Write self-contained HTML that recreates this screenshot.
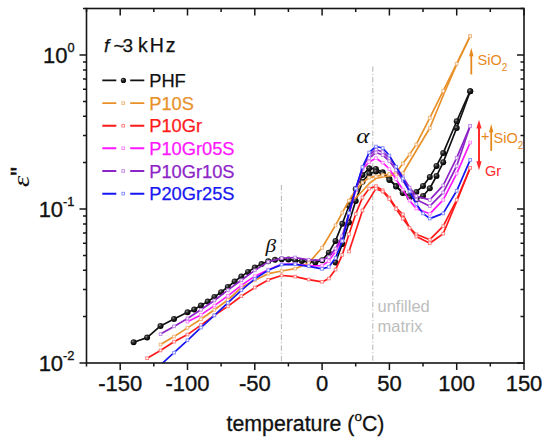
<!DOCTYPE html>
<html><head><meta charset="utf-8"><style>
html,body{margin:0;padding:0;background:#fff;}
body{width:550px;height:442px;overflow:hidden;font-family:"Liberation Sans",sans-serif;}
svg{display:block;}
</style></head><body>
<svg width="550" height="442" viewBox="0 0 550 442">
<defs><radialGradient id="ball" cx="0.38" cy="0.35" r="0.65"><stop offset="0" stop-color="#9a9a9a"/><stop offset="0.35" stop-color="#2a2a2a"/><stop offset="1" stop-color="#000"/></radialGradient>
<clipPath id="clip"><rect x="86.5" y="8.5" width="437.5" height="354.5"/></clipPath></defs>
<rect width="550" height="442" fill="#fff"/>
<line x1="281.4" y1="185" x2="281.4" y2="363.0" stroke="#b4b4b4" stroke-width="1" stroke-dasharray="5.3 2.1 1.1 2.2"/>
<line x1="372.8" y1="66.5" x2="372.8" y2="363.0" stroke="#b4b4b4" stroke-width="1" stroke-dasharray="5.3 2.1 1.1 2.2"/>
<g clip-path="url(#clip)">
<polyline points="133.6,342.3 147.1,337.6 160.5,325.9 174.0,319.0 187.5,312.3 194.2,309.6 200.9,305.5 207.7,301.6 214.4,296.9 221.1,292.2 227.8,287.0 234.6,281.5 241.3,276.4 248.0,271.9 254.8,267.5 261.5,264.1 268.2,261.2 275.0,259.8 281.7,259.2 288.4,259.6 295.2,260.5 301.9,261.1 308.6,261.7 315.3,262.4 322.1,260.2 328.8,252.7 335.5,240.9 342.3,223.8 349.0,205.8 355.7,189.0 362.5,175.0 369.2,168.3 375.9,168.9 382.7,172.3 389.4,179.1 396.1,185.9 402.8,192.5 409.6,196.0 416.3,191.9 423.0,185.9 429.8,176.9 436.5,165.9 443.2,153.1 450.0,137.0 456.7,121.3 463.4,106.0 470.2,91.2" fill="none" stroke="#111111" stroke-width="1.7" stroke-linejoin="round"/>
<polyline points="335.5,262.4 342.3,244.0 349.0,222.6 355.7,200.9 362.5,181.8 369.2,173.7 375.9,171.6 382.7,173.5 389.4,180.0 396.1,186.5 402.8,193.0 409.6,197.5 416.3,199.3 423.0,196.0 429.8,188.3 436.5,176.0 443.2,162.3 450.0,145.0 456.7,128.0 463.4,110.0 470.2,91.2" fill="none" stroke="#111111" stroke-width="1.7" stroke-linejoin="round"/>
<circle cx="133.6" cy="342.3" r="3.0" fill="url(#ball)"/>
<circle cx="147.1" cy="337.6" r="3.0" fill="url(#ball)"/>
<circle cx="160.5" cy="325.9" r="3.0" fill="url(#ball)"/>
<circle cx="174.0" cy="319.0" r="3.0" fill="url(#ball)"/>
<circle cx="187.5" cy="312.3" r="3.0" fill="url(#ball)"/>
<circle cx="194.2" cy="309.6" r="3.0" fill="url(#ball)"/>
<circle cx="200.9" cy="305.5" r="3.0" fill="url(#ball)"/>
<circle cx="207.7" cy="301.6" r="3.0" fill="url(#ball)"/>
<circle cx="214.4" cy="296.9" r="3.0" fill="url(#ball)"/>
<circle cx="221.1" cy="292.2" r="3.0" fill="url(#ball)"/>
<circle cx="227.8" cy="287.0" r="3.0" fill="url(#ball)"/>
<circle cx="234.6" cy="281.5" r="3.0" fill="url(#ball)"/>
<circle cx="241.3" cy="276.4" r="3.0" fill="url(#ball)"/>
<circle cx="248.0" cy="271.9" r="3.0" fill="url(#ball)"/>
<circle cx="254.8" cy="267.5" r="3.0" fill="url(#ball)"/>
<circle cx="261.5" cy="264.1" r="3.0" fill="url(#ball)"/>
<circle cx="268.2" cy="261.2" r="3.0" fill="url(#ball)"/>
<circle cx="275.0" cy="259.8" r="3.0" fill="url(#ball)"/>
<circle cx="281.7" cy="259.2" r="3.0" fill="url(#ball)"/>
<circle cx="288.4" cy="259.6" r="3.0" fill="url(#ball)"/>
<circle cx="295.2" cy="260.5" r="3.0" fill="url(#ball)"/>
<circle cx="301.9" cy="261.1" r="3.0" fill="url(#ball)"/>
<circle cx="308.6" cy="261.7" r="3.0" fill="url(#ball)"/>
<circle cx="315.3" cy="262.4" r="3.0" fill="url(#ball)"/>
<circle cx="322.1" cy="260.2" r="3.0" fill="url(#ball)"/>
<circle cx="328.8" cy="252.7" r="3.0" fill="url(#ball)"/>
<circle cx="335.5" cy="240.9" r="3.0" fill="url(#ball)"/>
<circle cx="342.3" cy="223.8" r="3.0" fill="url(#ball)"/>
<circle cx="349.0" cy="205.8" r="3.0" fill="url(#ball)"/>
<circle cx="355.7" cy="189.0" r="3.0" fill="url(#ball)"/>
<circle cx="362.5" cy="175.0" r="3.0" fill="url(#ball)"/>
<circle cx="369.2" cy="168.3" r="3.0" fill="url(#ball)"/>
<circle cx="375.9" cy="168.9" r="3.0" fill="url(#ball)"/>
<circle cx="382.7" cy="172.3" r="3.0" fill="url(#ball)"/>
<circle cx="389.4" cy="179.1" r="3.0" fill="url(#ball)"/>
<circle cx="396.1" cy="185.9" r="3.0" fill="url(#ball)"/>
<circle cx="402.8" cy="192.5" r="3.0" fill="url(#ball)"/>
<circle cx="409.6" cy="196.0" r="3.0" fill="url(#ball)"/>
<circle cx="416.3" cy="191.9" r="3.0" fill="url(#ball)"/>
<circle cx="423.0" cy="185.9" r="3.0" fill="url(#ball)"/>
<circle cx="429.8" cy="176.9" r="3.0" fill="url(#ball)"/>
<circle cx="436.5" cy="165.9" r="3.0" fill="url(#ball)"/>
<circle cx="443.2" cy="153.1" r="3.0" fill="url(#ball)"/>
<circle cx="456.7" cy="121.3" r="3.0" fill="url(#ball)"/>
<circle cx="470.2" cy="91.2" r="3.0" fill="url(#ball)"/>
<circle cx="335.5" cy="262.4" r="3.0" fill="url(#ball)"/>
<circle cx="342.3" cy="244.0" r="3.0" fill="url(#ball)"/>
<circle cx="349.0" cy="222.6" r="3.0" fill="url(#ball)"/>
<circle cx="355.7" cy="200.9" r="3.0" fill="url(#ball)"/>
<circle cx="362.5" cy="181.8" r="3.0" fill="url(#ball)"/>
<circle cx="369.2" cy="173.7" r="3.0" fill="url(#ball)"/>
<circle cx="375.9" cy="171.6" r="3.0" fill="url(#ball)"/>
<circle cx="382.7" cy="173.5" r="3.0" fill="url(#ball)"/>
<circle cx="389.4" cy="180.0" r="3.0" fill="url(#ball)"/>
<circle cx="396.1" cy="186.5" r="3.0" fill="url(#ball)"/>
<circle cx="402.8" cy="193.0" r="3.0" fill="url(#ball)"/>
<circle cx="409.6" cy="197.5" r="3.0" fill="url(#ball)"/>
<circle cx="416.3" cy="199.3" r="3.0" fill="url(#ball)"/>
<circle cx="423.0" cy="196.0" r="3.0" fill="url(#ball)"/>
<circle cx="429.8" cy="188.3" r="3.0" fill="url(#ball)"/>
<circle cx="436.5" cy="176.0" r="3.0" fill="url(#ball)"/>
<circle cx="443.2" cy="162.3" r="3.0" fill="url(#ball)"/>
<circle cx="456.7" cy="128.0" r="3.0" fill="url(#ball)"/>
<circle cx="470.2" cy="91.2" r="3.0" fill="url(#ball)"/>
<polyline points="160.5,344.6 174.0,336.6 187.5,327.9 200.9,319.2 214.4,309.8 227.8,300.0 241.3,287.6 254.8,280.3 268.2,273.7 281.7,271.0 295.2,268.7 308.6,263.0 322.1,247.8 335.5,225.3 342.3,212.6 349.0,200.5 355.7,190.2 362.5,182.6 369.2,177.5 375.9,176.4 382.7,175.0 389.4,174.0 396.1,173.0 402.8,163.6 409.6,154.4 416.3,144.4 429.8,117.8 443.2,90.8 456.7,63.7 470.2,36.2" fill="none" stroke="#E8912A" stroke-width="1.7" stroke-linejoin="round"/>
<polyline points="349.0,201.0 355.7,198.0 362.5,191.0 369.2,183.5 375.9,178.5 382.7,177.0 389.4,176.0 396.1,174.5 402.8,173.3 429.8,128.0 443.2,95.5 456.7,64.3 470.2,36.2" fill="none" stroke="#E8912A" stroke-width="1.7" stroke-linejoin="round"/>
<rect x="159.2" y="343.2" width="2.7" height="2.7" fill="#fff" stroke="#F0B274" stroke-width="0.9"/>
<rect x="172.7" y="335.2" width="2.7" height="2.7" fill="#fff" stroke="#F0B274" stroke-width="0.9"/>
<rect x="186.1" y="326.5" width="2.7" height="2.7" fill="#fff" stroke="#F0B274" stroke-width="0.9"/>
<rect x="199.6" y="317.8" width="2.7" height="2.7" fill="#fff" stroke="#F0B274" stroke-width="0.9"/>
<rect x="213.0" y="308.4" width="2.7" height="2.7" fill="#fff" stroke="#F0B274" stroke-width="0.9"/>
<rect x="226.5" y="298.6" width="2.7" height="2.7" fill="#fff" stroke="#F0B274" stroke-width="0.9"/>
<rect x="240.0" y="286.2" width="2.7" height="2.7" fill="#fff" stroke="#F0B274" stroke-width="0.9"/>
<rect x="253.4" y="278.9" width="2.7" height="2.7" fill="#fff" stroke="#F0B274" stroke-width="0.9"/>
<rect x="266.9" y="272.3" width="2.7" height="2.7" fill="#fff" stroke="#F0B274" stroke-width="0.9"/>
<rect x="280.3" y="269.6" width="2.7" height="2.7" fill="#fff" stroke="#F0B274" stroke-width="0.9"/>
<rect x="293.8" y="267.3" width="2.7" height="2.7" fill="#fff" stroke="#F0B274" stroke-width="0.9"/>
<rect x="307.3" y="261.6" width="2.7" height="2.7" fill="#fff" stroke="#F0B274" stroke-width="0.9"/>
<rect x="320.7" y="246.5" width="2.7" height="2.7" fill="#fff" stroke="#F0B274" stroke-width="0.9"/>
<rect x="334.2" y="224.0" width="2.7" height="2.7" fill="#fff" stroke="#F0B274" stroke-width="0.9"/>
<rect x="340.9" y="211.2" width="2.7" height="2.7" fill="#fff" stroke="#F0B274" stroke-width="0.9"/>
<rect x="347.6" y="199.2" width="2.7" height="2.7" fill="#fff" stroke="#F0B274" stroke-width="0.9"/>
<rect x="354.4" y="188.8" width="2.7" height="2.7" fill="#fff" stroke="#F0B274" stroke-width="0.9"/>
<rect x="361.1" y="181.2" width="2.7" height="2.7" fill="#fff" stroke="#F0B274" stroke-width="0.9"/>
<rect x="367.8" y="176.2" width="2.7" height="2.7" fill="#fff" stroke="#F0B274" stroke-width="0.9"/>
<rect x="374.6" y="175.1" width="2.7" height="2.7" fill="#fff" stroke="#F0B274" stroke-width="0.9"/>
<rect x="381.3" y="173.7" width="2.7" height="2.7" fill="#fff" stroke="#F0B274" stroke-width="0.9"/>
<rect x="388.0" y="172.7" width="2.7" height="2.7" fill="#fff" stroke="#F0B274" stroke-width="0.9"/>
<rect x="394.8" y="171.7" width="2.7" height="2.7" fill="#fff" stroke="#F0B274" stroke-width="0.9"/>
<rect x="401.5" y="162.2" width="2.7" height="2.7" fill="#fff" stroke="#F0B274" stroke-width="0.9"/>
<rect x="408.2" y="153.1" width="2.7" height="2.7" fill="#fff" stroke="#F0B274" stroke-width="0.9"/>
<rect x="415.0" y="143.1" width="2.7" height="2.7" fill="#fff" stroke="#F0B274" stroke-width="0.9"/>
<rect x="428.4" y="116.5" width="2.7" height="2.7" fill="#fff" stroke="#F0B274" stroke-width="0.9"/>
<rect x="441.9" y="89.5" width="2.7" height="2.7" fill="#fff" stroke="#F0B274" stroke-width="0.9"/>
<rect x="455.3" y="62.4" width="2.7" height="2.7" fill="#fff" stroke="#F0B274" stroke-width="0.9"/>
<rect x="468.8" y="34.9" width="2.7" height="2.7" fill="#fff" stroke="#F0B274" stroke-width="0.9"/>
<rect x="394.8" y="173.2" width="2.7" height="2.7" fill="#fff" stroke="#F0B274" stroke-width="0.9"/>
<rect x="401.5" y="172.0" width="2.7" height="2.7" fill="#fff" stroke="#F0B274" stroke-width="0.9"/>
<rect x="428.4" y="126.7" width="2.7" height="2.7" fill="#fff" stroke="#F0B274" stroke-width="0.9"/>
<rect x="468.8" y="34.9" width="2.7" height="2.7" fill="#fff" stroke="#F0B274" stroke-width="0.9"/>
<polyline points="147.1,358.3 160.5,350.5 174.0,341.7 187.5,334.6 200.9,325.1 214.4,315.4 227.8,306.4 241.3,296.2 254.8,287.6 268.2,279.9 281.7,275.5 295.2,276.7 308.6,279.6 322.1,281.9 328.8,278.6 335.5,269.6 342.3,254.8 349.0,234.2 355.7,214.0 362.5,197.6 369.2,188.5 375.9,186.2 382.7,190.2 389.4,197.7 396.1,207.9 402.8,214.3 409.6,227.9 416.3,234.3 429.8,239.7 443.2,226.1 456.7,199.9 470.2,167.8" fill="none" stroke="#FF1A1A" stroke-width="1.7" stroke-linejoin="round"/>
<polyline points="349.0,251.4 362.5,210.4 375.9,188.6 382.7,191.5 389.4,199.0 396.1,209.0 402.8,218.5 416.3,236.5 429.8,243.3 443.2,233.7 456.7,201.5 470.2,167.8" fill="none" stroke="#FF1A1A" stroke-width="1.7" stroke-linejoin="round"/>
<rect x="145.7" y="356.9" width="2.7" height="2.7" fill="#fff" stroke="#FF7A7A" stroke-width="0.9"/>
<rect x="159.2" y="349.1" width="2.7" height="2.7" fill="#fff" stroke="#FF7A7A" stroke-width="0.9"/>
<rect x="172.7" y="340.3" width="2.7" height="2.7" fill="#fff" stroke="#FF7A7A" stroke-width="0.9"/>
<rect x="186.1" y="333.2" width="2.7" height="2.7" fill="#fff" stroke="#FF7A7A" stroke-width="0.9"/>
<rect x="199.6" y="323.8" width="2.7" height="2.7" fill="#fff" stroke="#FF7A7A" stroke-width="0.9"/>
<rect x="213.0" y="314.0" width="2.7" height="2.7" fill="#fff" stroke="#FF7A7A" stroke-width="0.9"/>
<rect x="226.5" y="305.0" width="2.7" height="2.7" fill="#fff" stroke="#FF7A7A" stroke-width="0.9"/>
<rect x="240.0" y="294.8" width="2.7" height="2.7" fill="#fff" stroke="#FF7A7A" stroke-width="0.9"/>
<rect x="253.4" y="286.2" width="2.7" height="2.7" fill="#fff" stroke="#FF7A7A" stroke-width="0.9"/>
<rect x="266.9" y="278.5" width="2.7" height="2.7" fill="#fff" stroke="#FF7A7A" stroke-width="0.9"/>
<rect x="280.3" y="274.1" width="2.7" height="2.7" fill="#fff" stroke="#FF7A7A" stroke-width="0.9"/>
<rect x="293.8" y="275.3" width="2.7" height="2.7" fill="#fff" stroke="#FF7A7A" stroke-width="0.9"/>
<rect x="307.3" y="278.2" width="2.7" height="2.7" fill="#fff" stroke="#FF7A7A" stroke-width="0.9"/>
<rect x="320.7" y="280.5" width="2.7" height="2.7" fill="#fff" stroke="#FF7A7A" stroke-width="0.9"/>
<rect x="327.5" y="277.2" width="2.7" height="2.7" fill="#fff" stroke="#FF7A7A" stroke-width="0.9"/>
<rect x="334.2" y="268.2" width="2.7" height="2.7" fill="#fff" stroke="#FF7A7A" stroke-width="0.9"/>
<rect x="340.9" y="253.5" width="2.7" height="2.7" fill="#fff" stroke="#FF7A7A" stroke-width="0.9"/>
<rect x="347.6" y="232.8" width="2.7" height="2.7" fill="#fff" stroke="#FF7A7A" stroke-width="0.9"/>
<rect x="354.4" y="212.7" width="2.7" height="2.7" fill="#fff" stroke="#FF7A7A" stroke-width="0.9"/>
<rect x="361.1" y="196.2" width="2.7" height="2.7" fill="#fff" stroke="#FF7A7A" stroke-width="0.9"/>
<rect x="367.8" y="187.2" width="2.7" height="2.7" fill="#fff" stroke="#FF7A7A" stroke-width="0.9"/>
<rect x="374.6" y="184.8" width="2.7" height="2.7" fill="#fff" stroke="#FF7A7A" stroke-width="0.9"/>
<rect x="381.3" y="188.8" width="2.7" height="2.7" fill="#fff" stroke="#FF7A7A" stroke-width="0.9"/>
<rect x="388.0" y="196.3" width="2.7" height="2.7" fill="#fff" stroke="#FF7A7A" stroke-width="0.9"/>
<rect x="394.8" y="206.6" width="2.7" height="2.7" fill="#fff" stroke="#FF7A7A" stroke-width="0.9"/>
<rect x="401.5" y="213.0" width="2.7" height="2.7" fill="#fff" stroke="#FF7A7A" stroke-width="0.9"/>
<rect x="408.2" y="226.6" width="2.7" height="2.7" fill="#fff" stroke="#FF7A7A" stroke-width="0.9"/>
<rect x="415.0" y="233.0" width="2.7" height="2.7" fill="#fff" stroke="#FF7A7A" stroke-width="0.9"/>
<rect x="428.4" y="238.3" width="2.7" height="2.7" fill="#fff" stroke="#FF7A7A" stroke-width="0.9"/>
<rect x="441.9" y="224.8" width="2.7" height="2.7" fill="#fff" stroke="#FF7A7A" stroke-width="0.9"/>
<rect x="455.3" y="198.6" width="2.7" height="2.7" fill="#fff" stroke="#FF7A7A" stroke-width="0.9"/>
<rect x="468.8" y="166.5" width="2.7" height="2.7" fill="#fff" stroke="#FF7A7A" stroke-width="0.9"/>
<rect x="347.6" y="250.1" width="2.7" height="2.7" fill="#fff" stroke="#FF7A7A" stroke-width="0.9"/>
<rect x="361.1" y="209.1" width="2.7" height="2.7" fill="#fff" stroke="#FF7A7A" stroke-width="0.9"/>
<rect x="374.6" y="187.2" width="2.7" height="2.7" fill="#fff" stroke="#FF7A7A" stroke-width="0.9"/>
<rect x="381.3" y="190.2" width="2.7" height="2.7" fill="#fff" stroke="#FF7A7A" stroke-width="0.9"/>
<rect x="388.0" y="197.7" width="2.7" height="2.7" fill="#fff" stroke="#FF7A7A" stroke-width="0.9"/>
<rect x="394.8" y="207.7" width="2.7" height="2.7" fill="#fff" stroke="#FF7A7A" stroke-width="0.9"/>
<rect x="401.5" y="217.2" width="2.7" height="2.7" fill="#fff" stroke="#FF7A7A" stroke-width="0.9"/>
<rect x="415.0" y="235.2" width="2.7" height="2.7" fill="#fff" stroke="#FF7A7A" stroke-width="0.9"/>
<rect x="428.4" y="242.0" width="2.7" height="2.7" fill="#fff" stroke="#FF7A7A" stroke-width="0.9"/>
<rect x="441.9" y="232.3" width="2.7" height="2.7" fill="#fff" stroke="#FF7A7A" stroke-width="0.9"/>
<rect x="468.8" y="166.5" width="2.7" height="2.7" fill="#fff" stroke="#FF7A7A" stroke-width="0.9"/>
<polyline points="187.5,321.7 200.9,314.9 214.4,305.6 227.8,295.9 241.3,285.4 254.8,276.2 268.2,269.7 281.7,264.3 295.2,264.0 308.6,265.8 322.1,265.6 328.8,261.1 335.5,251.4 342.3,238.0 349.0,214.5 355.7,190.0 362.5,169.0 369.2,162.0 375.9,158.2 382.7,162.7 389.4,169.0 396.1,179.2 402.8,189.6 409.6,200.6 416.3,208.6 429.8,213.8 443.2,199.9 456.7,173.6 470.2,142.5" fill="none" stroke="#FF18FF" stroke-width="1.7" stroke-linejoin="round"/>
<rect x="186.1" y="320.3" width="2.7" height="2.7" fill="#fff" stroke="#FF80FF" stroke-width="0.9"/>
<rect x="199.6" y="313.5" width="2.7" height="2.7" fill="#fff" stroke="#FF80FF" stroke-width="0.9"/>
<rect x="213.0" y="304.2" width="2.7" height="2.7" fill="#fff" stroke="#FF80FF" stroke-width="0.9"/>
<rect x="226.5" y="294.5" width="2.7" height="2.7" fill="#fff" stroke="#FF80FF" stroke-width="0.9"/>
<rect x="240.0" y="284.0" width="2.7" height="2.7" fill="#fff" stroke="#FF80FF" stroke-width="0.9"/>
<rect x="253.4" y="274.8" width="2.7" height="2.7" fill="#fff" stroke="#FF80FF" stroke-width="0.9"/>
<rect x="266.9" y="268.3" width="2.7" height="2.7" fill="#fff" stroke="#FF80FF" stroke-width="0.9"/>
<rect x="280.3" y="262.9" width="2.7" height="2.7" fill="#fff" stroke="#FF80FF" stroke-width="0.9"/>
<rect x="293.8" y="262.6" width="2.7" height="2.7" fill="#fff" stroke="#FF80FF" stroke-width="0.9"/>
<rect x="307.3" y="264.4" width="2.7" height="2.7" fill="#fff" stroke="#FF80FF" stroke-width="0.9"/>
<rect x="320.7" y="264.2" width="2.7" height="2.7" fill="#fff" stroke="#FF80FF" stroke-width="0.9"/>
<rect x="327.5" y="259.8" width="2.7" height="2.7" fill="#fff" stroke="#FF80FF" stroke-width="0.9"/>
<rect x="334.2" y="250.1" width="2.7" height="2.7" fill="#fff" stroke="#FF80FF" stroke-width="0.9"/>
<rect x="340.9" y="236.7" width="2.7" height="2.7" fill="#fff" stroke="#FF80FF" stroke-width="0.9"/>
<rect x="347.6" y="213.2" width="2.7" height="2.7" fill="#fff" stroke="#FF80FF" stroke-width="0.9"/>
<rect x="354.4" y="188.7" width="2.7" height="2.7" fill="#fff" stroke="#FF80FF" stroke-width="0.9"/>
<rect x="361.1" y="167.7" width="2.7" height="2.7" fill="#fff" stroke="#FF80FF" stroke-width="0.9"/>
<rect x="367.8" y="160.7" width="2.7" height="2.7" fill="#fff" stroke="#FF80FF" stroke-width="0.9"/>
<rect x="374.6" y="156.8" width="2.7" height="2.7" fill="#fff" stroke="#FF80FF" stroke-width="0.9"/>
<rect x="381.3" y="161.3" width="2.7" height="2.7" fill="#fff" stroke="#FF80FF" stroke-width="0.9"/>
<rect x="388.0" y="167.7" width="2.7" height="2.7" fill="#fff" stroke="#FF80FF" stroke-width="0.9"/>
<rect x="394.8" y="177.8" width="2.7" height="2.7" fill="#fff" stroke="#FF80FF" stroke-width="0.9"/>
<rect x="401.5" y="188.2" width="2.7" height="2.7" fill="#fff" stroke="#FF80FF" stroke-width="0.9"/>
<rect x="408.2" y="199.2" width="2.7" height="2.7" fill="#fff" stroke="#FF80FF" stroke-width="0.9"/>
<rect x="415.0" y="207.2" width="2.7" height="2.7" fill="#fff" stroke="#FF80FF" stroke-width="0.9"/>
<rect x="428.4" y="212.5" width="2.7" height="2.7" fill="#fff" stroke="#FF80FF" stroke-width="0.9"/>
<rect x="441.9" y="198.6" width="2.7" height="2.7" fill="#fff" stroke="#FF80FF" stroke-width="0.9"/>
<rect x="455.3" y="172.2" width="2.7" height="2.7" fill="#fff" stroke="#FF80FF" stroke-width="0.9"/>
<rect x="468.8" y="141.2" width="2.7" height="2.7" fill="#fff" stroke="#FF80FF" stroke-width="0.9"/>
<polyline points="160.5,334.1 174.0,326.4 187.5,318.5 200.9,309.8 214.4,300.5 227.8,290.1 241.3,280.3 254.8,270.4 268.2,261.9 281.7,258.2 295.2,257.5 308.6,259.8 322.1,260.2 328.8,257.1 335.5,248.6 342.3,236.0 349.0,213.0 355.7,189.0 362.5,168.5 369.2,155.0 375.9,149.5 382.7,152.0 389.4,158.0 396.1,167.0 402.8,177.0 409.6,187.5 416.3,196.2 429.8,199.9 443.2,185.4 456.7,157.8 470.2,125.8" fill="none" stroke="#8E24C8" stroke-width="1.7" stroke-linejoin="round"/>
<polyline points="369.2,158.0 375.9,152.5 382.7,155.0 389.4,161.0 396.1,170.0 402.8,180.5 409.6,191.0 416.3,199.5 429.8,206.2 443.2,192.6 456.7,166.0 470.2,125.8" fill="none" stroke="#8E24C8" stroke-width="1.7" stroke-linejoin="round"/>
<rect x="159.2" y="332.8" width="2.7" height="2.7" fill="#fff" stroke="#BE84E4" stroke-width="0.9"/>
<rect x="172.7" y="325.0" width="2.7" height="2.7" fill="#fff" stroke="#BE84E4" stroke-width="0.9"/>
<rect x="186.1" y="317.1" width="2.7" height="2.7" fill="#fff" stroke="#BE84E4" stroke-width="0.9"/>
<rect x="199.6" y="308.4" width="2.7" height="2.7" fill="#fff" stroke="#BE84E4" stroke-width="0.9"/>
<rect x="213.0" y="299.1" width="2.7" height="2.7" fill="#fff" stroke="#BE84E4" stroke-width="0.9"/>
<rect x="226.5" y="288.8" width="2.7" height="2.7" fill="#fff" stroke="#BE84E4" stroke-width="0.9"/>
<rect x="240.0" y="278.9" width="2.7" height="2.7" fill="#fff" stroke="#BE84E4" stroke-width="0.9"/>
<rect x="253.4" y="269.0" width="2.7" height="2.7" fill="#fff" stroke="#BE84E4" stroke-width="0.9"/>
<rect x="266.9" y="260.5" width="2.7" height="2.7" fill="#fff" stroke="#BE84E4" stroke-width="0.9"/>
<rect x="280.3" y="256.8" width="2.7" height="2.7" fill="#fff" stroke="#BE84E4" stroke-width="0.9"/>
<rect x="293.8" y="256.1" width="2.7" height="2.7" fill="#fff" stroke="#BE84E4" stroke-width="0.9"/>
<rect x="307.3" y="258.4" width="2.7" height="2.7" fill="#fff" stroke="#BE84E4" stroke-width="0.9"/>
<rect x="320.7" y="258.8" width="2.7" height="2.7" fill="#fff" stroke="#BE84E4" stroke-width="0.9"/>
<rect x="327.5" y="255.8" width="2.7" height="2.7" fill="#fff" stroke="#BE84E4" stroke-width="0.9"/>
<rect x="334.2" y="247.2" width="2.7" height="2.7" fill="#fff" stroke="#BE84E4" stroke-width="0.9"/>
<rect x="340.9" y="234.7" width="2.7" height="2.7" fill="#fff" stroke="#BE84E4" stroke-width="0.9"/>
<rect x="347.6" y="211.7" width="2.7" height="2.7" fill="#fff" stroke="#BE84E4" stroke-width="0.9"/>
<rect x="354.4" y="187.7" width="2.7" height="2.7" fill="#fff" stroke="#BE84E4" stroke-width="0.9"/>
<rect x="361.1" y="167.2" width="2.7" height="2.7" fill="#fff" stroke="#BE84E4" stroke-width="0.9"/>
<rect x="367.8" y="153.7" width="2.7" height="2.7" fill="#fff" stroke="#BE84E4" stroke-width="0.9"/>
<rect x="374.6" y="148.2" width="2.7" height="2.7" fill="#fff" stroke="#BE84E4" stroke-width="0.9"/>
<rect x="381.3" y="150.7" width="2.7" height="2.7" fill="#fff" stroke="#BE84E4" stroke-width="0.9"/>
<rect x="388.0" y="156.7" width="2.7" height="2.7" fill="#fff" stroke="#BE84E4" stroke-width="0.9"/>
<rect x="394.8" y="165.7" width="2.7" height="2.7" fill="#fff" stroke="#BE84E4" stroke-width="0.9"/>
<rect x="401.5" y="175.7" width="2.7" height="2.7" fill="#fff" stroke="#BE84E4" stroke-width="0.9"/>
<rect x="408.2" y="186.2" width="2.7" height="2.7" fill="#fff" stroke="#BE84E4" stroke-width="0.9"/>
<rect x="415.0" y="194.8" width="2.7" height="2.7" fill="#fff" stroke="#BE84E4" stroke-width="0.9"/>
<rect x="428.4" y="198.6" width="2.7" height="2.7" fill="#fff" stroke="#BE84E4" stroke-width="0.9"/>
<rect x="441.9" y="184.1" width="2.7" height="2.7" fill="#fff" stroke="#BE84E4" stroke-width="0.9"/>
<rect x="455.3" y="156.5" width="2.7" height="2.7" fill="#fff" stroke="#BE84E4" stroke-width="0.9"/>
<rect x="468.8" y="124.5" width="2.7" height="2.7" fill="#fff" stroke="#BE84E4" stroke-width="0.9"/>
<rect x="367.8" y="156.7" width="2.7" height="2.7" fill="#fff" stroke="#BE84E4" stroke-width="0.9"/>
<rect x="374.6" y="151.2" width="2.7" height="2.7" fill="#fff" stroke="#BE84E4" stroke-width="0.9"/>
<rect x="381.3" y="153.7" width="2.7" height="2.7" fill="#fff" stroke="#BE84E4" stroke-width="0.9"/>
<rect x="388.0" y="159.7" width="2.7" height="2.7" fill="#fff" stroke="#BE84E4" stroke-width="0.9"/>
<rect x="394.8" y="168.7" width="2.7" height="2.7" fill="#fff" stroke="#BE84E4" stroke-width="0.9"/>
<rect x="401.5" y="179.2" width="2.7" height="2.7" fill="#fff" stroke="#BE84E4" stroke-width="0.9"/>
<rect x="408.2" y="189.7" width="2.7" height="2.7" fill="#fff" stroke="#BE84E4" stroke-width="0.9"/>
<rect x="415.0" y="198.2" width="2.7" height="2.7" fill="#fff" stroke="#BE84E4" stroke-width="0.9"/>
<rect x="428.4" y="204.8" width="2.7" height="2.7" fill="#fff" stroke="#BE84E4" stroke-width="0.9"/>
<rect x="441.9" y="191.2" width="2.7" height="2.7" fill="#fff" stroke="#BE84E4" stroke-width="0.9"/>
<rect x="455.3" y="164.7" width="2.7" height="2.7" fill="#fff" stroke="#BE84E4" stroke-width="0.9"/>
<rect x="468.8" y="124.5" width="2.7" height="2.7" fill="#fff" stroke="#BE84E4" stroke-width="0.9"/>
<polyline points="160.5,365.0 174.0,352.7 187.5,340.3 200.9,327.6 214.4,315.4 227.8,302.9 241.3,290.3 254.8,278.8 268.2,270.3 281.7,264.6 295.2,264.3 308.6,266.3 322.1,268.9 328.8,267.0 335.5,258.0 342.3,241.0 349.0,213.0 355.7,188.5 362.5,167.0 369.2,152.5 375.9,146.5 382.7,148.0 389.4,155.6 396.1,166.7 402.8,178.5 409.6,191.6 416.3,203.9 423.0,213.4 429.8,218.6 443.2,213.4 456.7,190.8 470.2,159.9" fill="none" stroke="#1616F2" stroke-width="1.7" stroke-linejoin="round"/>
<rect x="159.2" y="363.6" width="2.7" height="2.7" fill="#fff" stroke="#8088FF" stroke-width="0.9"/>
<rect x="172.7" y="351.3" width="2.7" height="2.7" fill="#fff" stroke="#8088FF" stroke-width="0.9"/>
<rect x="186.1" y="338.9" width="2.7" height="2.7" fill="#fff" stroke="#8088FF" stroke-width="0.9"/>
<rect x="199.6" y="326.2" width="2.7" height="2.7" fill="#fff" stroke="#8088FF" stroke-width="0.9"/>
<rect x="213.0" y="314.0" width="2.7" height="2.7" fill="#fff" stroke="#8088FF" stroke-width="0.9"/>
<rect x="226.5" y="301.5" width="2.7" height="2.7" fill="#fff" stroke="#8088FF" stroke-width="0.9"/>
<rect x="240.0" y="288.9" width="2.7" height="2.7" fill="#fff" stroke="#8088FF" stroke-width="0.9"/>
<rect x="253.4" y="277.4" width="2.7" height="2.7" fill="#fff" stroke="#8088FF" stroke-width="0.9"/>
<rect x="266.9" y="268.9" width="2.7" height="2.7" fill="#fff" stroke="#8088FF" stroke-width="0.9"/>
<rect x="280.3" y="263.2" width="2.7" height="2.7" fill="#fff" stroke="#8088FF" stroke-width="0.9"/>
<rect x="293.8" y="262.9" width="2.7" height="2.7" fill="#fff" stroke="#8088FF" stroke-width="0.9"/>
<rect x="307.3" y="264.9" width="2.7" height="2.7" fill="#fff" stroke="#8088FF" stroke-width="0.9"/>
<rect x="320.7" y="267.5" width="2.7" height="2.7" fill="#fff" stroke="#8088FF" stroke-width="0.9"/>
<rect x="327.5" y="265.6" width="2.7" height="2.7" fill="#fff" stroke="#8088FF" stroke-width="0.9"/>
<rect x="334.2" y="256.6" width="2.7" height="2.7" fill="#fff" stroke="#8088FF" stroke-width="0.9"/>
<rect x="340.9" y="239.7" width="2.7" height="2.7" fill="#fff" stroke="#8088FF" stroke-width="0.9"/>
<rect x="347.6" y="211.7" width="2.7" height="2.7" fill="#fff" stroke="#8088FF" stroke-width="0.9"/>
<rect x="354.4" y="187.2" width="2.7" height="2.7" fill="#fff" stroke="#8088FF" stroke-width="0.9"/>
<rect x="361.1" y="165.7" width="2.7" height="2.7" fill="#fff" stroke="#8088FF" stroke-width="0.9"/>
<rect x="367.8" y="151.2" width="2.7" height="2.7" fill="#fff" stroke="#8088FF" stroke-width="0.9"/>
<rect x="374.6" y="145.2" width="2.7" height="2.7" fill="#fff" stroke="#8088FF" stroke-width="0.9"/>
<rect x="381.3" y="146.7" width="2.7" height="2.7" fill="#fff" stroke="#8088FF" stroke-width="0.9"/>
<rect x="388.0" y="154.2" width="2.7" height="2.7" fill="#fff" stroke="#8088FF" stroke-width="0.9"/>
<rect x="394.8" y="165.3" width="2.7" height="2.7" fill="#fff" stroke="#8088FF" stroke-width="0.9"/>
<rect x="401.5" y="177.2" width="2.7" height="2.7" fill="#fff" stroke="#8088FF" stroke-width="0.9"/>
<rect x="408.2" y="190.2" width="2.7" height="2.7" fill="#fff" stroke="#8088FF" stroke-width="0.9"/>
<rect x="415.0" y="202.6" width="2.7" height="2.7" fill="#fff" stroke="#8088FF" stroke-width="0.9"/>
<rect x="421.7" y="212.1" width="2.7" height="2.7" fill="#fff" stroke="#8088FF" stroke-width="0.9"/>
<rect x="428.4" y="217.2" width="2.7" height="2.7" fill="#fff" stroke="#8088FF" stroke-width="0.9"/>
<rect x="441.9" y="212.1" width="2.7" height="2.7" fill="#fff" stroke="#8088FF" stroke-width="0.9"/>
<rect x="455.3" y="189.5" width="2.7" height="2.7" fill="#fff" stroke="#8088FF" stroke-width="0.9"/>
<rect x="468.8" y="158.6" width="2.7" height="2.7" fill="#fff" stroke="#8088FF" stroke-width="0.9"/>
</g>
<rect x="86.5" y="8.5" width="437.5" height="354.5" fill="none" stroke="#161616" stroke-width="1.6"/>
<path d="M86.5 363.0v3.5M86.5 8.5v3.5M120.2 363.0v7.0M120.2 8.5v7.0M153.8 363.0v3.5M153.8 8.5v3.5M187.5 363.0v7.0M187.5 8.5v7.0M221.1 363.0v3.5M221.1 8.5v3.5M254.8 363.0v7.0M254.8 8.5v7.0M288.4 363.0v3.5M288.4 8.5v3.5M322.1 363.0v7.0M322.1 8.5v7.0M355.7 363.0v3.5M355.7 8.5v3.5M389.4 363.0v7.0M389.4 8.5v7.0M423.0 363.0v3.5M423.0 8.5v3.5M456.7 363.0v7.0M456.7 8.5v7.0M490.3 363.0v3.5M490.3 8.5v3.5M524.0 363.0v7.0M524.0 8.5v7.0M86.5 363.0h-7.0M524.0 363.0h-7.0M86.5 316.6h-3.5M524.0 316.6h-3.5M86.5 289.5h-3.5M524.0 289.5h-3.5M86.5 270.3h-3.5M524.0 270.3h-3.5M86.5 255.4h-3.5M524.0 255.4h-3.5M86.5 243.2h-3.5M524.0 243.2h-3.5M86.5 232.9h-3.5M524.0 232.9h-3.5M86.5 223.9h-3.5M524.0 223.9h-3.5M86.5 216.0h-3.5M524.0 216.0h-3.5M86.5 209.0h-7.0M524.0 209.0h-7.0M86.5 162.6h-3.5M524.0 162.6h-3.5M86.5 135.5h-3.5M524.0 135.5h-3.5M86.5 116.3h-3.5M524.0 116.3h-3.5M86.5 101.4h-3.5M524.0 101.4h-3.5M86.5 89.2h-3.5M524.0 89.2h-3.5M86.5 78.9h-3.5M524.0 78.9h-3.5M86.5 69.9h-3.5M524.0 69.9h-3.5M86.5 62.0h-3.5M524.0 62.0h-3.5M86.5 55.0h-7.0M524.0 55.0h-7.0M86.5 8.6h-3.5M524.0 8.6h-3.5" stroke="#161616" stroke-width="1.5" fill="none"/>
<text x="120.2" y="391" font-family="Liberation Sans, sans-serif" font-size="22" text-anchor="middle" fill="#111" stroke="#111" stroke-width="0.35">-150</text>
<text x="187.5" y="391" font-family="Liberation Sans, sans-serif" font-size="22" text-anchor="middle" fill="#111" stroke="#111" stroke-width="0.35">-100</text>
<text x="254.8" y="391" font-family="Liberation Sans, sans-serif" font-size="22" text-anchor="middle" fill="#111" stroke="#111" stroke-width="0.35">-50</text>
<text x="322.1" y="391" font-family="Liberation Sans, sans-serif" font-size="22" text-anchor="middle" fill="#111" stroke="#111" stroke-width="0.35">0</text>
<text x="389.4" y="391" font-family="Liberation Sans, sans-serif" font-size="22" text-anchor="middle" fill="#111" stroke="#111" stroke-width="0.35">50</text>
<text x="456.7" y="391" font-family="Liberation Sans, sans-serif" font-size="22" text-anchor="middle" fill="#111" stroke="#111" stroke-width="0.35">100</text>
<text x="524.0" y="391" font-family="Liberation Sans, sans-serif" font-size="22" text-anchor="middle" fill="#111" stroke="#111" stroke-width="0.35">150</text>
<text x="74.5" y="63.0" font-family="Liberation Sans, sans-serif" font-size="22" text-anchor="end" fill="#111" stroke="#111" stroke-width="0.35">10<tspan font-size="12.8" dy="-11.2">0</tspan></text>
<text x="74.5" y="217.0" font-family="Liberation Sans, sans-serif" font-size="22" text-anchor="end" fill="#111" stroke="#111" stroke-width="0.35">10<tspan font-size="12.8" dy="-11.2">-1</tspan></text>
<text x="74.5" y="371.0" font-family="Liberation Sans, sans-serif" font-size="22" text-anchor="end" fill="#111" stroke="#111" stroke-width="0.35">10<tspan font-size="12.8" dy="-11.2">-2</tspan></text>
<text x="305.5" y="430.5" font-family="Liberation Sans, sans-serif" font-size="21.3" text-anchor="middle" fill="#111" stroke="#111" stroke-width="0.3">temperature (<tspan font-size="13.5" dy="-10">o</tspan><tspan dy="10">C)</tspan></text>
<g transform="translate(28.6,187) rotate(-90)"><text transform="scale(1.3,1.08)" font-family="Liberation Serif, serif" font-style="italic" font-size="22" fill="#111">&#949;</text><text x="11" y="-1" font-family="Liberation Sans, sans-serif" font-size="24" fill="#111" stroke="#111" stroke-width="0.6">''</text></g>
<text y="51.7" font-family="Liberation Sans, sans-serif" font-size="19" fill="#111" stroke="#111" stroke-width="0.25"><tspan x="104" font-style="italic">f</tspan><tspan x="113.6">~</tspan><tspan x="122.4">3</tspan><tspan x="138" font-size="19.5" letter-spacing="2">kHz</tspan></text>
<path d="M102.3 80.4H116.3M130.2 80.4H144.3" stroke="#111111" stroke-width="1.9"/>
<circle cx="123.4" cy="80.4" r="2.6" fill="url(#ball)"/>
<text x="149.2" y="86.9" font-family="Liberation Sans, sans-serif" font-size="18.3" fill="#111111" stroke="#111111" stroke-width="0.25">PHF</text>
<path d="M102.3 103.1H116.3M130.2 103.1H144.3" stroke="#E8912A" stroke-width="1.9"/>
<rect x="121.9" y="101.8" width="2.6" height="2.6" fill="#fff" stroke="#F0B274" stroke-width="0.9"/>
<text x="149.2" y="109.6" font-family="Liberation Sans, sans-serif" font-size="18.3" fill="#E8912A" stroke="#E8912A" stroke-width="0.25">P10S</text>
<path d="M102.3 125.7H116.3M130.2 125.7H144.3" stroke="#FF1A1A" stroke-width="1.9"/>
<rect x="121.9" y="124.4" width="2.6" height="2.6" fill="#fff" stroke="#FF7A7A" stroke-width="0.9"/>
<text x="149.2" y="132.2" font-family="Liberation Sans, sans-serif" font-size="18.3" fill="#FF1A1A" stroke="#FF1A1A" stroke-width="0.25">P10Gr</text>
<path d="M102.3 148.3H116.3M130.2 148.3H144.3" stroke="#FF18FF" stroke-width="1.9"/>
<rect x="121.9" y="147.0" width="2.6" height="2.6" fill="#fff" stroke="#FF80FF" stroke-width="0.9"/>
<text x="149.2" y="154.8" font-family="Liberation Sans, sans-serif" font-size="18.3" fill="#FF18FF" stroke="#FF18FF" stroke-width="0.25">P10Gr05S</text>
<path d="M102.3 171.0H116.3M130.2 171.0H144.3" stroke="#8E24C8" stroke-width="1.9"/>
<rect x="121.9" y="169.7" width="2.6" height="2.6" fill="#fff" stroke="#BE84E4" stroke-width="0.9"/>
<text x="149.2" y="177.5" font-family="Liberation Sans, sans-serif" font-size="18.3" fill="#8E24C8" stroke="#8E24C8" stroke-width="0.25">P10Gr10S</text>
<path d="M102.3 193.7H116.3M130.2 193.7H144.3" stroke="#1616F2" stroke-width="1.9"/>
<rect x="121.9" y="192.3" width="2.6" height="2.6" fill="#fff" stroke="#8088FF" stroke-width="0.9"/>
<text x="149.2" y="200.2" font-family="Liberation Sans, sans-serif" font-size="18.3" fill="#1616F2" stroke="#1616F2" stroke-width="0.25">P20Gr25S</text>
<text transform="translate(265.6,251.6) scale(1.2,1)" font-family="Liberation Serif, serif" font-style="italic" font-size="17.8" fill="#111">&#946;</text>
<text transform="translate(356.2,143.4) scale(1.17,1)" font-family="Liberation Serif, serif" font-style="italic" font-size="21.5" fill="#111">&#945;</text>
<text x="377.5" y="311.5" font-family="Liberation Sans, sans-serif" font-size="16.5" fill="#bdbdbd">unfilled</text>
<text x="377.5" y="331.5" font-family="Liberation Sans, sans-serif" font-size="16.5" fill="#bdbdbd">matrix</text>
<path d="M471.3 74.4V54" stroke="#E6891C" stroke-width="1.8"/><path d="M471.3 47.8L469.1 56.2L473.5 56.2Z" fill="#E6891C"/>
<text x="477.5" y="64.6" font-family="Liberation Sans, sans-serif" font-size="14.5" fill="#E6891C">SiO<tspan font-size="10" dy="6">2</tspan></text>
<path d="M479 126V163" stroke="#FF2A2A" stroke-width="2"/><path d="M479 119.8L476.4 128.6L481.6 128.6Z M479 170.2L476.4 161.2L481.6 161.2Z" fill="#FF2A2A"/>
<text x="481" y="141.3" font-family="Liberation Sans, sans-serif" font-size="14.5" fill="#E6891C">+</text>
<path d="M491.2 150.9V130" stroke="#E6891C" stroke-width="1.8"/><path d="M491.2 123.9L489 132.2L493.4 132.2Z" fill="#E6891C"/>
<text x="493.6" y="142.5" font-family="Liberation Sans, sans-serif" font-size="14.5" fill="#E6891C">SiO<tspan font-size="10" dy="6">2</tspan></text>
<text x="485" y="175.7" font-family="Liberation Sans, sans-serif" font-size="14.5" fill="#FF2A2A">Gr</text>
</svg>
</body></html>
